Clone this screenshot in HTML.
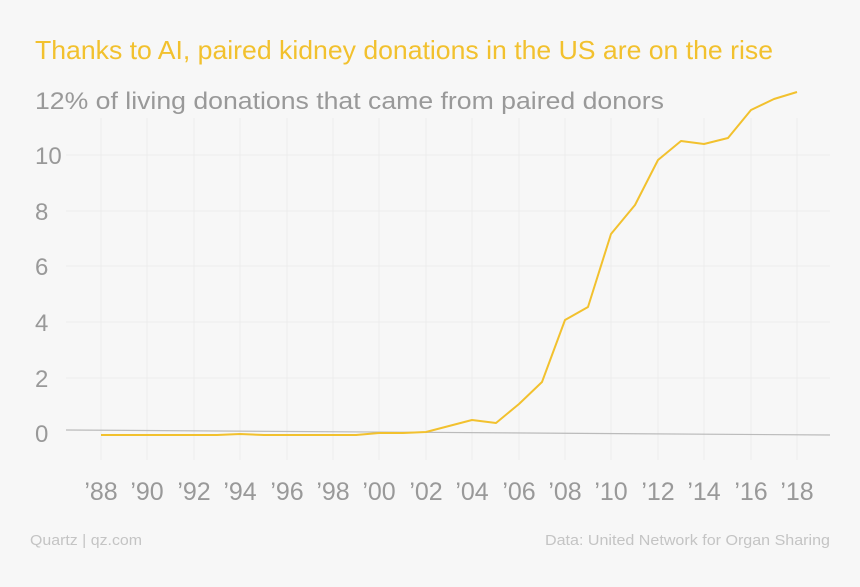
<!DOCTYPE html>
<html><head><meta charset="utf-8"><style>
body{margin:0;background:#f7f7f7;}
svg{display:block;font-family:"Liberation Sans",sans-serif;}
</style></head><body>
<svg width="860" height="587" viewBox="0 0 860 587">
<rect width="860" height="587" fill="#f7f7f7"/>
<text x="35" y="59" font-size="26" fill="#f2c12e" textLength="738" lengthAdjust="spacingAndGlyphs">Thanks to AI, paired kidney donations in the US are on the rise</text>
<g stroke="#ececec" stroke-width="1">
<line x1="66" y1="155" x2="830" y2="155"/>
<line x1="66" y1="211" x2="830" y2="211"/>
<line x1="66" y1="266" x2="830" y2="266"/>
<line x1="66" y1="322" x2="830" y2="322"/>
<line x1="66" y1="378" x2="830" y2="378"/>
<line x1="101" y1="118" x2="101" y2="460"/>
<line x1="147" y1="118" x2="147" y2="460"/>
<line x1="194" y1="118" x2="194" y2="460"/>
<line x1="240" y1="118" x2="240" y2="460"/>
<line x1="287" y1="118" x2="287" y2="460"/>
<line x1="333" y1="118" x2="333" y2="460"/>
<line x1="379" y1="118" x2="379" y2="460"/>
<line x1="426" y1="118" x2="426" y2="460"/>
<line x1="472" y1="118" x2="472" y2="460"/>
<line x1="519" y1="118" x2="519" y2="460"/>
<line x1="565" y1="118" x2="565" y2="460"/>
<line x1="611" y1="118" x2="611" y2="460"/>
<line x1="658" y1="118" x2="658" y2="460"/>
<line x1="704" y1="118" x2="704" y2="460"/>
<line x1="751" y1="118" x2="751" y2="460"/>
<line x1="797" y1="118" x2="797" y2="460"/>
</g>
<line x1="66" y1="430" x2="830" y2="435" stroke="#bbbbbb" stroke-width="1.2"/>
<g font-size="24" fill="#999">
<text x="35" y="109" textLength="629" lengthAdjust="spacingAndGlyphs">12% of living donations that came from paired donors</text>
<text x="35" y="164">10</text>
<text x="35" y="220">8</text>
<text x="35" y="275">6</text>
<text x="35" y="331">4</text>
<text x="35" y="387">2</text>
<text x="35" y="442">0</text>
</g>
<g font-size="25" fill="#999" text-anchor="middle">
<text x="101" y="500">’88</text><text x="147" y="500">’90</text><text x="194" y="500">’92</text>
<text x="240" y="500">’94</text><text x="287" y="500">’96</text><text x="333" y="500">’98</text>
<text x="379" y="500">’00</text><text x="426" y="500">’02</text><text x="472" y="500">’04</text>
<text x="519" y="500">’06</text><text x="565" y="500">’08</text><text x="611" y="500">’10</text>
<text x="658" y="500">’12</text><text x="704" y="500">’14</text><text x="751" y="500">’16</text>
<text x="797" y="500">’18</text>
</g>
<polyline fill="none" stroke="#f2c12e" stroke-width="2" stroke-linejoin="round" points="101,435 124,435 147,435 171,435 194,435 217,435 240,434 264,435 287,435 310,435 333,435 356,435 379,433 403,433 426,432 449,426 472,420 496,423 519,404 542,382 565,320 588,307 611,234 635,205 658,160 681,141 704,144 728,138 751,110 774,99 797,92"/>
<text x="30" y="545" font-size="15" fill="#c4c4c4" textLength="112" lengthAdjust="spacingAndGlyphs">Quartz | qz.com</text>
<text x="545" y="545" font-size="15" fill="#c4c4c4" textLength="285" lengthAdjust="spacingAndGlyphs">Data: United Network for Organ Sharing</text>
</svg>
</body></html>
